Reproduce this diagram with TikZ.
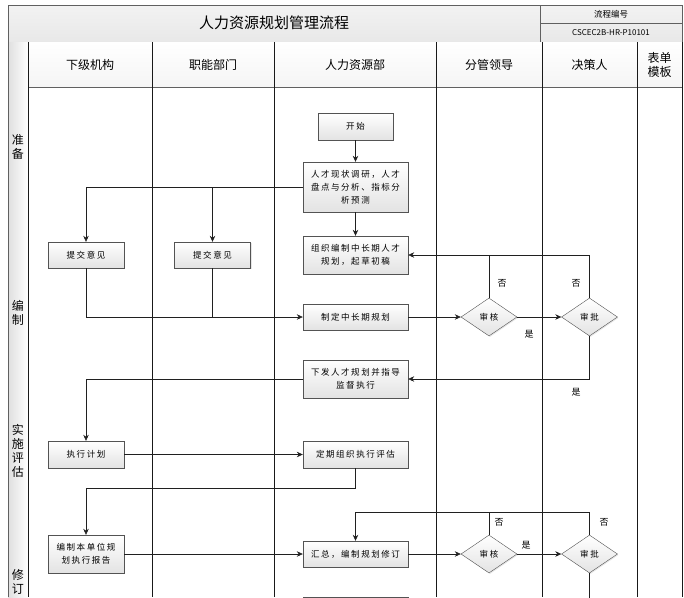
\documentclass[tikz,border=0pt]{standalone}
\usepackage{fontspec}
\newfontfamily\cjk{Noto Sans CJK SC}
\newfontfamily\cjkwide[LetterSpace=18]{Noto Sans CJK SC}
\usetikzlibrary{shapes, arrows.meta, positioning, shadows}

\newcommand\boxfont{\cjkwide\fontsize{8.5}{13}\selectfont}
\newcommand\hdfont{\cjk\fontsize{12}{14}\selectfont}

\begin{document}
\begin{tikzpicture}[>={Stealth[length=6pt, width=5.5pt]}, x=1pt, y=-1pt, font=\boxfont,
  frame/.style={draw=gray!75!black, line width=.6pt},
  lane/.style={draw=gray!20!black, line width=.7pt},
  box/.style={draw=gray!65!black, top color=white, bottom color=gray!22,
    align=center, inner sep=1pt, minimum height=26,
    drop shadow={shadow xshift=1pt, shadow yshift=-1pt, opacity=.2}},
  test/.style={box, diamond, minimum width=56, minimum height=38, inner sep=0pt},
  flow/.style={draw=gray!25!black, line width=.6pt},
  yesno/.style={font=\cjk\fontsize{9}{10}\selectfont}]
\useasboundingbox (0,0) rectangle (684,597);
\clip (0,0) rectangle (684,597);
% title row
\fill[top color=gray!10, bottom color=gray!18] (8,5) rectangle (682,42);
\draw[frame] (8,5) rectangle (682,42);
\draw[frame] (540,5) -- (540,42) (540,23) -- (682,23);
\node[font=\cjk\fontsize{15}{16}\selectfont] (title) at (274,23) {人力资源规划管理流程};
\node[font=\cjk\fontsize{8.5}{10}\selectfont] (numhd) at (611,14) {流程编号};
\node[font=\cjk\fontsize{8}{10}\selectfont] (num) at (611,33) {CSCEC2B-HR-P10101};
% stage column and header
\fill[left color=gray!25, right color=white] (8,42) rectangle (28,597);
\fill[top color=white, bottom color=gray!8] (28,42) rectangle (682,87);
\draw[frame] (8,42) -- (8,597);
\draw[frame] (28,87) -- (682,87);
\foreach \x in {28,152,274,436,542,637,682}
  \draw[lane] (\x,42) -- (\x,597);
\node[font=\hdfont] (h1) at (90,65) {下级机构};
\node[font=\hdfont] (h2) at (213,65) {职能部门};
\node[font=\hdfont] (h3) at (355,65) {人力资源部};
\node[font=\hdfont] (h4) at (489,65) {分管领导};
\node[font=\hdfont] (h5) at (589.5,65) {决策人};
\node[font=\hdfont, align=center] (h6) at (659.5,65) {表单\\模板};
% stages
\node[font=\hdfont, align=center] (s1) at (18,147) {准\\备};
\node[font=\hdfont, align=center] (s2) at (18,313) {编\\制};
\node[font=\hdfont, align=center] (s3) at (18,451) {实\\施\\评\\估};
\node[font=\hdfont, align=center] (s4) at (18,582) {修\\订};
% boxes
\node[box, minimum width=75, minimum height=27] (start) at (355.5,126.5) {开始};
\node[box, minimum width=105, minimum height=50] (survey) at (355.5,187) {人才现状调研，人才\\盘点与分析、指标分\\析预测};
\node[box, minimum width=76] (opin1) at (86,255) {提交意见};
\node[box, minimum width=76] (opin2) at (212.5,255) {提交意见};
\node[box, minimum width=105, minimum height=38] (draft) at (355.5,255) {组织编制中长期人才\\规划，起草初稿};
\node[box, minimum width=105] (plan) at (355.5,317) {制定中长期规划};
\node[test] (audit1) at (489,317) {审核};
\node[test] (appr1) at (589.5,317) {审批};
\node[box, minimum width=105, minimum height=38] (issue) at (355.5,379) {下发人才规划并指导\\监督执行};
\node[box, minimum width=76, minimum height=27] (exec) at (86,454.5) {执行计划};
\node[box, minimum width=105, minimum height=27] (evalu) at (355.5,454.5) {定期组织执行评估};
\node[box, minimum width=76, minimum height=38] (report) at (86,554) {编制本单位规\\划执行报告};
\node[box, minimum width=105] (revise) at (355.5,554) {汇总，编制规划修订};
\node[test] (audit2) at (489,554) {审核};
\node[test] (appr2) at (589.5,554) {审批};
\node[box, minimum width=105] (next) at (355.5,610) {};
% connectors
\draw[flow, ->] (start) -- (survey);
\draw[flow, ->] (survey.west) -| (opin1.north);
\draw[flow, ->] (survey.west -| opin2.north) -- (opin2.north);
\draw[flow, ->] (survey) -- (draft);
\draw[flow, ->] (opin1.south) |- (plan.west);
\draw[flow] (opin2.south) -- (opin2.south |- plan.west);
\draw[flow, ->] (plan) -- (audit1);
\draw[flow, ->] (audit1) -- (appr1);
\draw[flow, ->] (audit1.north) |- (draft.east);
\draw[flow] (appr1.north) |- (audit1.north |- draft.east);
\draw[flow, ->] (appr1.south) |- (issue.east);
\node[yesno] (no1) at (502,283) {否};
\node[yesno] (no2) at (576,283) {否};
\node[yesno] (yes1) at (529,334) {是};
\node[yesno] (yes2) at (576,392) {是};
\draw[flow, ->] (issue.west) -| (exec.north);
\draw[flow, ->] (exec) -- (evalu);
\coordinate (back) at (355.5,488);
\draw[flow, ->] (evalu.south) -- (back) -| (report.north);
\draw[flow, ->] (report) -- (revise);
\draw[flow, ->] (revise) -- (audit2);
\draw[flow, ->] (audit2) -- (appr2);
\coordinate (loop) at (355.5,512);
\draw[flow, ->] (appr2.north) |- (loop) -- (revise.north);
\draw[flow] (audit2.north) -- (audit2.north |- loop);
\coordinate (down) at (589.5,600);
\draw[flow] (appr2.south) -- (down);
\node[yesno] (no3) at (499,522) {否};
\node[yesno] (no4) at (604,522) {否};
\node[yesno] (yes3) at (526,545) {是};
\end{tikzpicture}
\end{document}
